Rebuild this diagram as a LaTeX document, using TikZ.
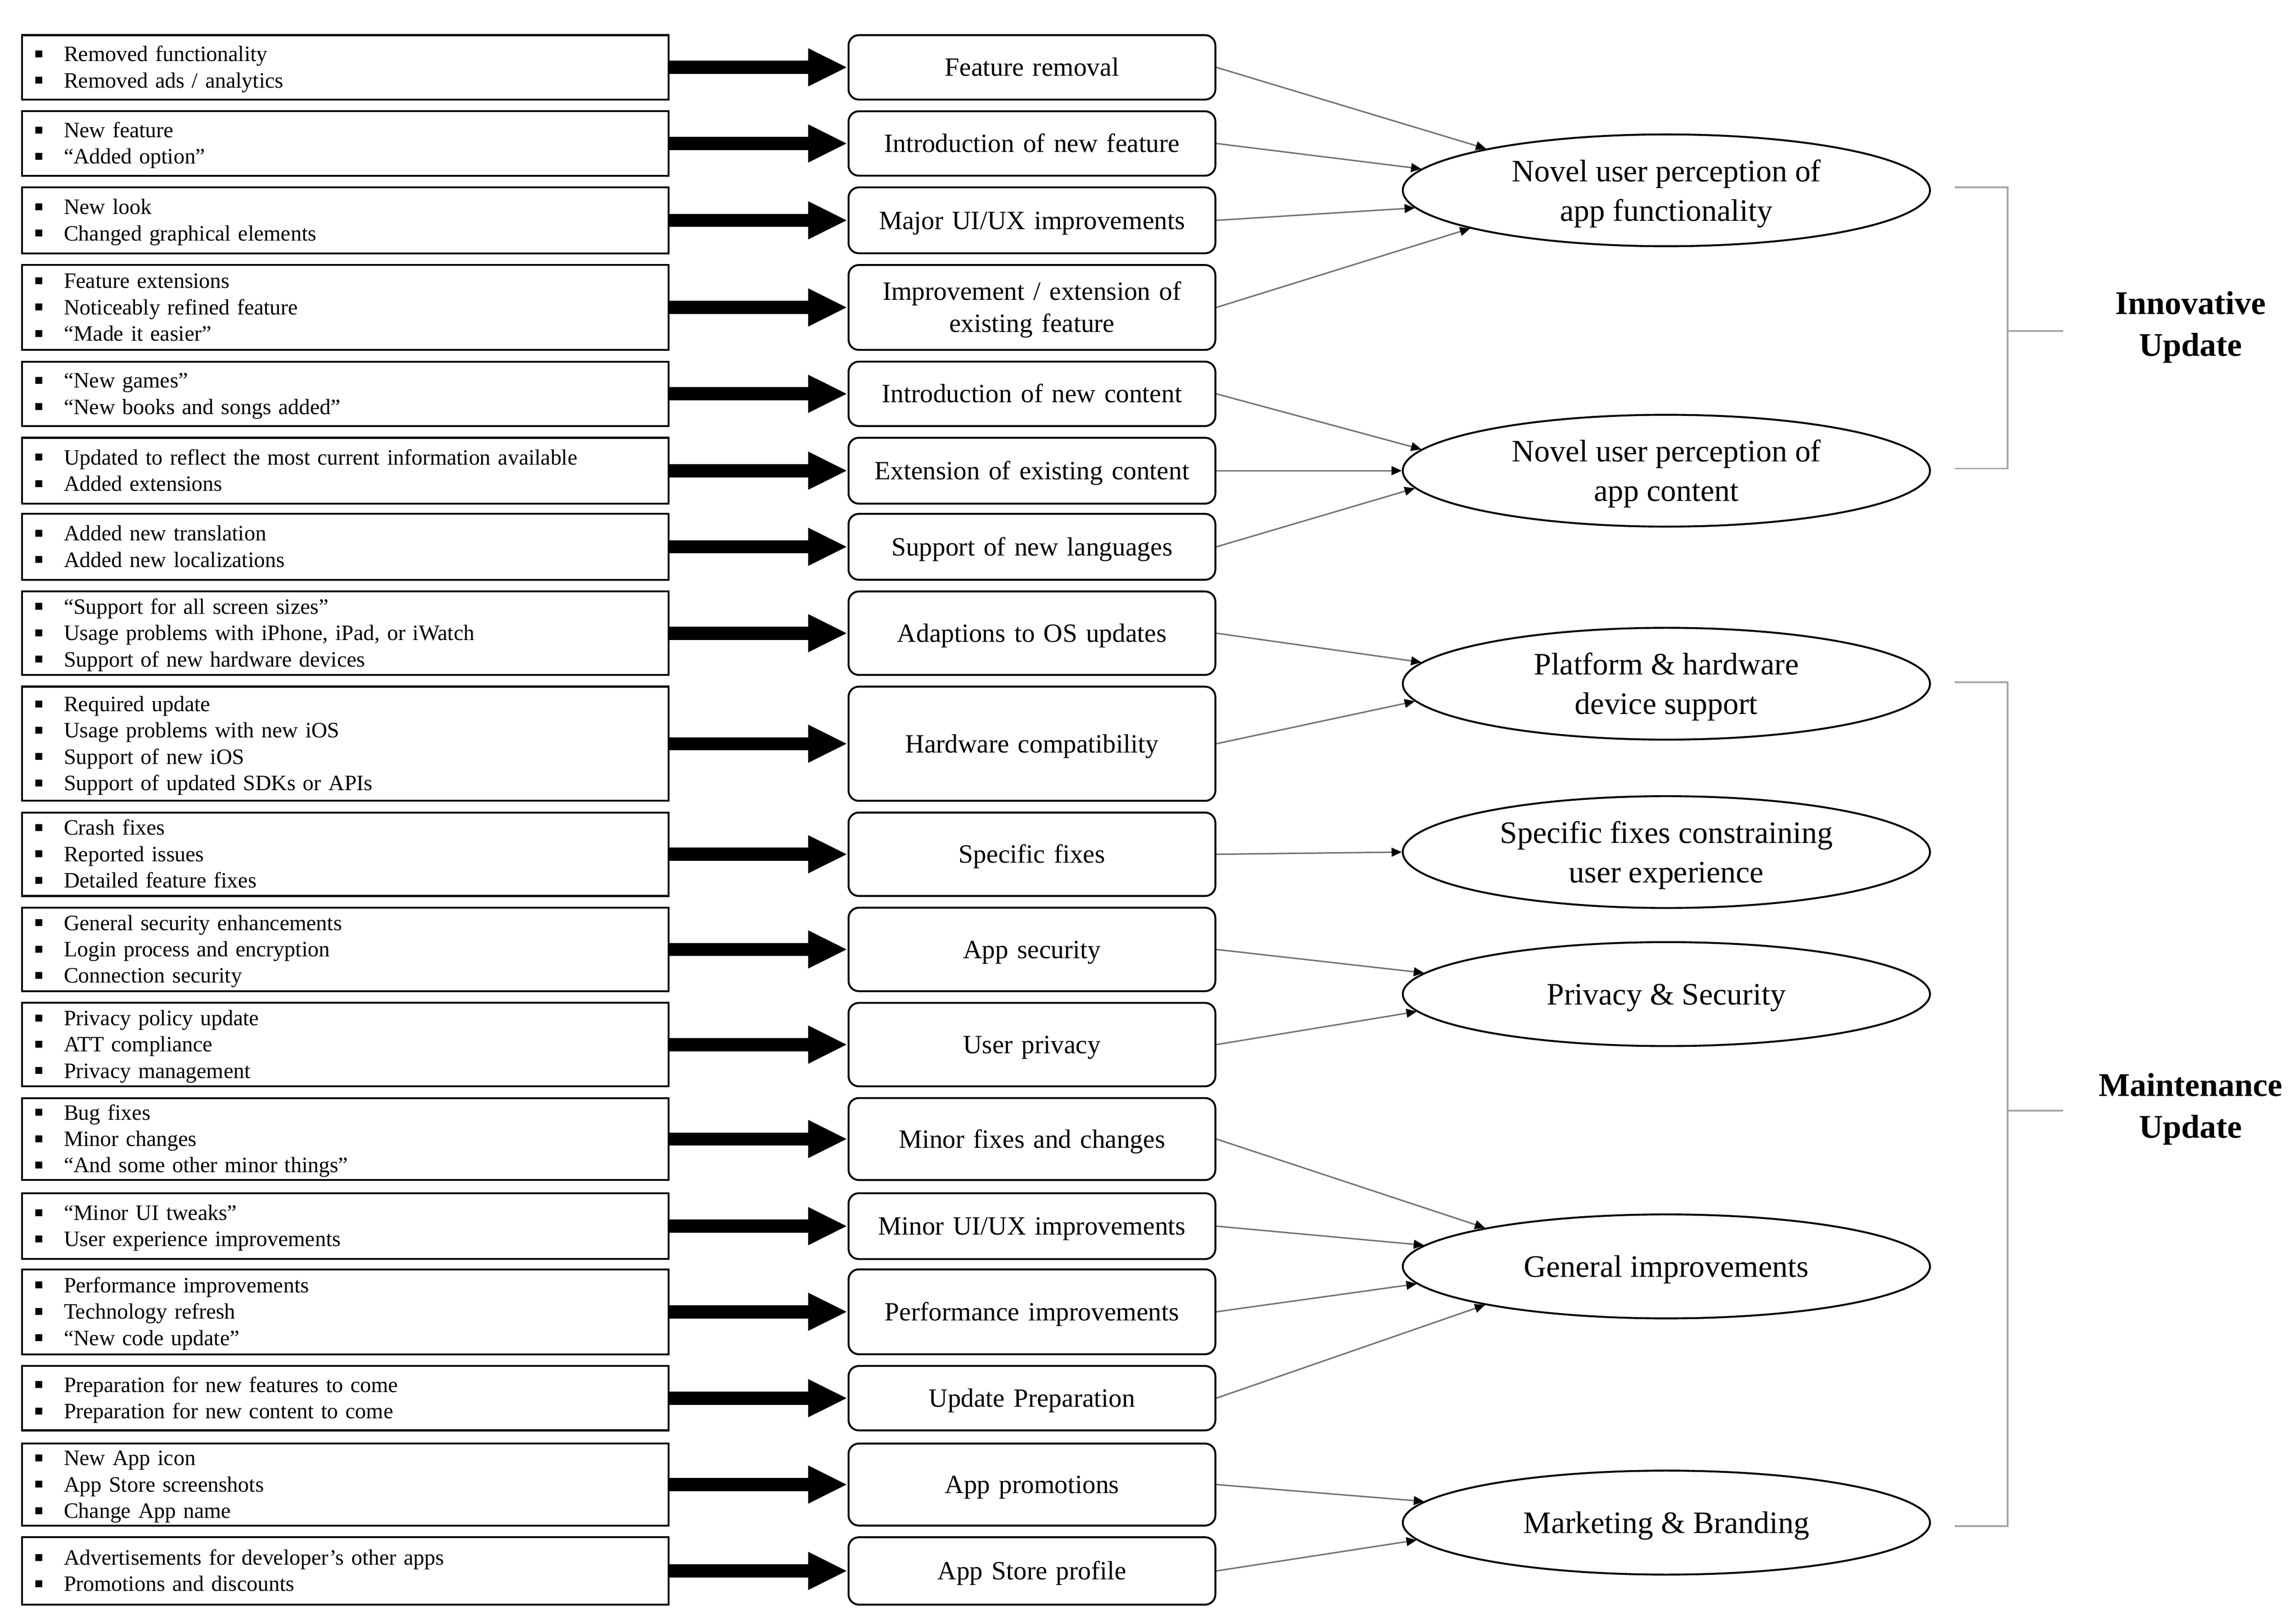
\documentclass[tikz,border=0pt]{standalone}
\usepackage{fontspec}
\setmainfont{Liberation Serif}
\usetikzlibrary{arrows.meta,shapes.geometric}
% line struts: height+depth equal to the baselineskip, Word-like line boxes
\newcommand\lstr{\rule[-4.1pt]{0pt}{18pt}}
\newcommand\mstr{\rule[-5pt]{0pt}{22pt}}
\newcommand\estr{\rule[-6.1pt]{0pt}{27pt}}
\newcommand\bstr{\rule[-6.4pt]{0pt}{28.5pt}}
\newcommand\bl{\lstr\makebox[28.6pt][l]{\hspace*{9.2pt}\rule[2.8pt]{4.7pt}{4.7pt}}}
\tikzset{
 lbox/.style={draw=black, line width=1.3pt, rectangle, text width=441.5pt, inner xsep=0pt, inner ysep=0pt, align=left, font=\fontsize{15.0}{18}\selectfont},
 mbox/.style={draw=black, line width=1.3pt, rectangle, rounded corners=7pt, minimum width=250.5pt, text width=244pt, inner xsep=0pt, inner ysep=0pt, align=center, font=\fontsize{18.0}{22}\selectfont},
 ebox/.style={draw=black, line width=1.3pt, ellipse, minimum width=360pt, minimum height=71pt, inner sep=0pt, align=center, font=\fontsize{21.3}{27}\selectfont},
 bigarrow/.style={line width=9pt, -{Triangle[length=27pt,width=24pt]}},
 thinarrow/.style={draw=black!55, line width=1pt, -{Triangle[length=7pt,width=6pt,color=black]}},
 bracket/.style={draw=black!35, line width=1.2pt},
 lab/.style={align=center, font=\fontsize{22.6}{28.5}\selectfont\bfseries, inner sep=0pt}
}
\newcommand\mkrow[5]{%
 \node[lbox, minimum height=#3pt] (l#1) at (235.75,#2) {#4};
 \node[mbox, minimum height=#3pt] (m#1) at (704.75,#2) {#5};
 \draw[bigarrow] (l#1.east) -- (m#1.west);
}
\begin{document}
\begin{tikzpicture}[x=1pt,y=-1pt]
\useasboundingbox[fill=white] (0,0) rectangle (1568,1108.5);

\mkrow{1}{46}{44}{\bl Removed functionality\\\bl Removed ads / analytics}{\mstr Feature removal}
\mkrow{2}{98}{44}{\bl New feature\\\bl “Added option”}{\mstr Introduction of new feature}
\mkrow{3}{150.5}{45}{\bl New look\\\bl Changed graphical elements}{\mstr Major UI/UX improvements}
\mkrow{4}{210}{58}{\bl Feature extensions\\\bl Noticeably refined feature\\\bl “Made it easier”}{\mstr Improvement / extension of\\\mstr existing feature}
\mkrow{5}{269}{44}{\bl “New games”\\\bl “New books and songs added”}{\mstr Introduction of new content}
\mkrow{6}{321.5}{45}{\bl Updated to reflect the most current information available\\\bl Added extensions}{\mstr Extension of existing content}
\mkrow{7}{373.5}{45}{\bl Added new translation\\\bl Added new localizations}{\mstr Support of new languages}
\mkrow{8}{432.5}{57}{\bl “Support for all screen sizes”\\\bl Usage problems with iPhone, iPad, or iWatch\\\bl Support of new hardware devices}{\mstr Adaptions to OS updates}
\mkrow{9}{508}{78}{\bl Required update\\\bl Usage problems with new iOS\\\bl Support of new iOS\\\bl Support of updated SDKs or APIs}{\mstr Hardware compatibility}
\mkrow{10}{583.5}{57}{\bl Crash fixes\\\bl Reported issues\\\bl Detailed feature fixes}{\mstr Specific fixes}
\mkrow{11}{648.5}{57}{\bl General security enhancements\\\bl Login process and encryption\\\bl Connection security}{\mstr App security}
\mkrow{12}{713.5}{57}{\bl Privacy policy update\\\bl ATT compliance\\\bl Privacy management}{\mstr User privacy}
\mkrow{13}{778}{56}{\bl Bug fixes\\\bl Minor changes\\\bl “And some other minor things”}{\mstr Minor fixes and changes}
\mkrow{14}{837.5}{45}{\bl “Minor UI tweaks”\\\bl User experience improvements}{\mstr Minor UI/UX improvements}
\mkrow{15}{896}{58}{\bl Performance improvements\\\bl Technology refresh\\\bl “New code update”}{\mstr Performance improvements}
\mkrow{16}{955}{44}{\bl Preparation for new features to come\\\bl Preparation for new content to come}{\mstr Update Preparation}
\mkrow{17}{1014}{56}{\bl New App icon\\\bl App Store screenshots\\\bl Change App name}{\mstr App promotions}
\mkrow{18}{1073}{46}{\bl Advertisements for developer’s other apps\\\bl Promotions and discounts}{\mstr App Store profile}

\node[ebox] (e1) at (1138,130) {\estr Novel user perception of\\\estr app functionality};
\node[ebox] (e2) at (1138,321.5) {\estr Novel user perception of\\\estr app content};
\node[ebox] (e3) at (1138,467) {\estr Platform \& hardware\\\estr device support};
\node[ebox] (e4) at (1138,582) {\estr Specific fixes constraining\\\estr user experience};
\node[ebox] (e5) at (1138,679) {\estr Privacy \& Security};
\node[ebox] (e6) at (1138,865) {\estr General improvements};
\node[ebox] (e7) at (1138,1040) {\estr Marketing \& Branding};

\draw[thinarrow] (m1.east) -- (e1.167);
\draw[thinarrow] (m2.east) -- (e1.175.3);
\draw[thinarrow] (m3.east) -- (e1.184.4);
\draw[thinarrow] (m4.east) -- (e1.191.5);
\draw[thinarrow] (m5.east) -- (e2.175.5);
\draw[thinarrow] (m6.east) -- (e2.180);
\draw[thinarrow] (m7.east) -- (e2.184.5);
\draw[thinarrow] (m8.east) -- (e3.175.5);
\draw[thinarrow] (m9.east) -- (e3.184.5);
\draw[thinarrow] (m10.east) -- (e4.180);
\draw[thinarrow] (m11.east) -- (e5.175.5);
\draw[thinarrow] (m12.east) -- (e5.184.5);
\draw[thinarrow] (m13.east) -- (e6.168);
\draw[thinarrow] (m14.east) -- (e6.175.5);
\draw[thinarrow] (m15.east) -- (e6.184.5);
\draw[thinarrow] (m16.east) -- (e6.192);
\draw[thinarrow] (m17.east) -- (e7.175.5);
\draw[thinarrow] (m18.east) -- (e7.184.5);

\coordinate (ia) at (1335,128);
\coordinate (ib) at (1371,128);
\coordinate (ic) at (1371,320);
\coordinate (id) at (1335,320);
\coordinate (im) at (1371,226);
\coordinate (it) at (1409,226);
\draw[bracket] (ia) -- (ib) -- (ic) -- (id);
\draw[bracket] (im) -- (it);

\coordinate (ma) at (1335,466);
\coordinate (mb) at (1371,466);
\coordinate (mc) at (1371,1042.5);
\coordinate (md) at (1335,1042.5);
\coordinate (mm) at (1371,758.5);
\coordinate (mt) at (1409,758.5);
\draw[bracket] (ma) -- (mb) -- (mc) -- (md);
\draw[bracket] (mm) -- (mt);

\node[lab] (inn) at (1496,221) {\bstr Innovative\\\bstr Update};
\node[lab] (mnt) at (1496,755) {\bstr Maintenance\\\bstr Update};
\end{tikzpicture}
\end{document}
